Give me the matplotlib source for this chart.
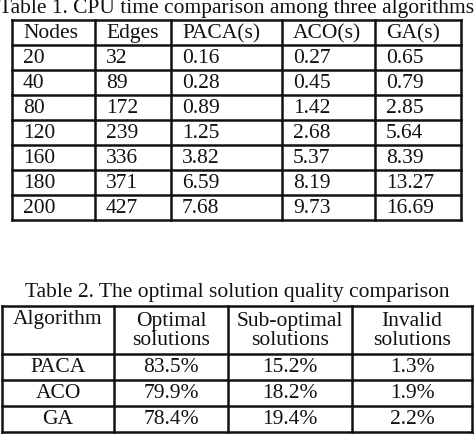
import matplotlib
matplotlib.use("Agg")
import matplotlib.pyplot as plt

t1_title = "Table 1. CPU time comparison among three algorithms"
t1_header = ["Nodes", "Edges", "PACA(s)", "ACO(s)", "GA(s)"]
nodes = ["20", "40", "80", "120", "160", "180", "200"]
edges = ["32", "89", "172", "239", "336", "371", "427"]
paca = ["0.16", "0.28", "0.89", "1.25", "3.82", "6.59", "7.68"]
aco = ["0.27", "0.45", "1.42", "2.68", "5.37", "8.19", "9.73"]
ga = ["0.65", "0.79", "2.85", "5.64", "8.39", "13.27", "16.69"]

t2_title = "Table 2. The optimal solution quality comparison"
t2_header = ["Algorithm", "Optimal\nsolutions", "Sub-optimal\nsolutions", "Invalid\nsolutions"]
algos = ["PACA", "ACO", "GA"]
optimal = ["83.5%", "79.9%", "78.4%"]
subopt = ["15.2%", "18.2%", "19.4%"]
invalid = ["1.3%", "1.9%", "2.2%"]

fig = plt.figure(figsize=(4.74, 4.35), dpi=100)
ax = fig.add_axes([0, 0, 1, 1])
ax.set_xlim(0, 474); ax.set_ylim(435, 0); ax.axis("off")
FONT = "Liberation Serif"
FS = 15.5
col = "#111111"

# Table 1
ax.text(237, 9, t1_title, ha="center", va="center", fontsize=FS, family=FONT, color=col)
xs = [12, 95, 171, 282, 375, 461]
ys = [21 + 25 * i for i in range(9)]
for x in xs:
    ax.plot([x, x], [ys[0], ys[-1]], color=col, lw=1.8)
for y in ys:
    ax.plot([xs[0], xs[-1]], [y, y], color=col, lw=1.8)
rows = [t1_header] + [list(r) for r in zip(nodes, edges, paca, aco, ga)]
for i, r in enumerate(rows):
    yc = (ys[i] + ys[i + 1]) / 2
    for j, v in enumerate(r):
        ax.text(xs[j] + 11, yc, v, ha="left", va="center", fontsize=FS, family=FONT, color=col)

# Table 2
ax.text(237, 293, t2_title, ha="center", va="center", fontsize=FS, family=FONT, color=col)
xs2 = [2, 114, 228, 352, 472]
ys2 = [307, 355, 381, 407, 433]
for x in xs2:
    ax.plot([x, x], [ys2[0], ys2[-1]], color=col, lw=1.8)
for y in ys2:
    ax.plot([xs2[0], xs2[-1]], [y, y], color=col, lw=1.8)
for j, h in enumerate(t2_header):
    xc = (xs2[j] + xs2[j + 1]) / 2
    ax.text(xc, 320 if j == 0 else 331, h, ha="center", va="center", fontsize=FS,
            family=FONT, color=col, linespacing=1.0)
rows2 = list(zip(algos, optimal, subopt, invalid))
for i, r in enumerate(rows2):
    yc = (ys2[i + 1] + ys2[i + 2]) / 2
    for j, v in enumerate(r):
        xc = (xs2[j] + xs2[j + 1]) / 2
        ax.text(xc, yc, v, ha="center", va="center", fontsize=FS, family=FONT, color=col)

fig.savefig("out.png", dpi=100)
